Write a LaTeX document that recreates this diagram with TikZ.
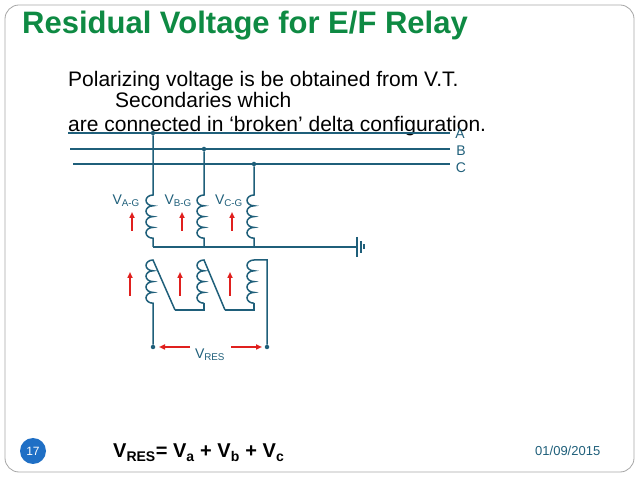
\documentclass[tikz,border=0pt]{standalone}
\usepackage{fontspec}
\setmainfont{Liberation Sans}
\usetikzlibrary{arrows.meta}
\definecolor{wire}{HTML}{1F5F7A}
\definecolor{tgreen}{HTML}{0E8A43}
\definecolor{ared}{HTML}{E0201E}
\definecolor{cblue}{HTML}{1F6FC5}
\begin{document}
\begin{tikzpicture}[x=1pt,y=-1pt,
  w/.style={draw=wire,line width=1.5pt},
  ra/.style={draw=ared,line width=1.5pt,-{Triangle[length=6pt,width=5pt]}},
  lbl/.style={text=wire,font=\fontsize{14}{14}\selectfont,inner sep=0pt},
  dot/.style={circle,fill=wire,inner sep=0pt,minimum size=4.5pt},
  coil/.style={insert path={
    arc[start angle=90,end angle=270,x radius=7pt,y radius=5.4pt]
    arc[start angle=90,end angle=270,x radius=7pt,y radius=5.4pt]
    arc[start angle=90,end angle=270,x radius=7pt,y radius=5.4pt]
    arc[start angle=90,end angle=270,x radius=7pt,y radius=5.4pt]}}]
\useasboundingbox (0,0) rectangle (638,478);
\draw[gray!70,line width=0.8pt,rounded corners=14pt] (5,5) rectangle (634,472);
\node[anchor=base west,inner sep=0pt,text=tgreen,font=\fontsize{31}{31}\selectfont\bfseries] (title) at (22,34) {Residual Voltage for E/F Relay};
\node[anchor=base west,inner sep=0pt,font=\fontsize{21}{21}\selectfont] (t1) at (68,87) {Polarizing voltage is be obtained from V.T.};
\node[anchor=base west,inner sep=0pt,font=\fontsize{21}{21}\selectfont] (t2) at (115,108) {Secondaries which};
\node[anchor=base west,inner sep=0pt,font=\fontsize{21}{21}\selectfont] (t3) at (68,132) {are connected in ‘broken’ delta configuration.};
% buses
\coordinate (Al) at (68,133); \coordinate (Ar) at (450,133);
\coordinate (Bl) at (70,149); \coordinate (Br) at (450,149);
\coordinate (Cl) at (73,164); \coordinate (Cr) at (450,164);
\draw[w] (Al)--(Ar); \draw[w] (Bl)--(Br); \draw[w] (Cl)--(Cr);
\node[lbl] (lA) at (460,134) {A};
\node[lbl] (lB) at (461,151) {B};
\node[lbl] (lC) at (461,168) {C};
\node[dot] (dA) at (153,133) {};
\node[dot] (dB) at (204,149) {};
\node[dot] (dC) at (254,164) {};
% primary coils
\draw[w] (dA) -- (153,195) [coil] -- (153,247);
\draw[w] (dB) -- (204,195) [coil] -- (204,247);
\draw[w] (dC) -- (254,195) [coil] -- (254,247);
\coordinate (gnd) at (357,247);
\draw[w] (153,247) -- (gnd);
\draw[w] (357,237) -- (357,257);
\draw[w] (361,241) -- (361,253);
\draw[w] (364,244.5) -- (364,249.5);
% secondary coils
\node[dot] (r1) at (153,347) {};
\node[dot] (r2) at (267,347) {};
\draw[w] (175,310) -- (153,260) [coil] -- (r1);
\draw[w] (175,310) -- (204,310) -- (204,303);
\draw[w] (225,310) -- (204,260) [coil];
\draw[w] (225,310) -- (254,310) -- (254,303);
\draw[w] (r2) -- (267,260) -- (254,260) [coil];
% arrows
\foreach \x in {132,182,232}{ \draw[ra] (\x,231) -- (\x,212); }
\foreach \x in {130,180,230}{ \draw[ra] (\x,296) -- (\x,272); }
\draw[ra] (190,347) -- (159,347);
\draw[ra] (231,347) -- (262,347);
\node[lbl] (vres) at (210,355) {V\textsubscript{RES}};
\node[lbl,anchor=east] (va) at (140,201) {V\textsubscript{A-G}};
\node[lbl,anchor=east] (vb) at (192,201) {V\textsubscript{B-G}};
\node[lbl,anchor=east] (vc) at (243,201) {V\textsubscript{C-G}};
% footer
\node[circle,fill=cblue,minimum size=26pt,inner sep=0pt,text=white,font=\fontsize{12}{12}\selectfont] (num) at (33,451) {17};
\node[anchor=base west,inner sep=0pt,font=\fontsize{20}{20}\selectfont\bfseries] (eq) at (113,458) {V\textsubscript{RES}= V\textsubscript{a} + V\textsubscript{b} + V\textsubscript{c}};
\node[anchor=base west,inner sep=0pt,text=wire,font=\fontsize{13}{13}\selectfont] (date) at (535,456) {01/09/2015};
\end{tikzpicture}
\end{document}
